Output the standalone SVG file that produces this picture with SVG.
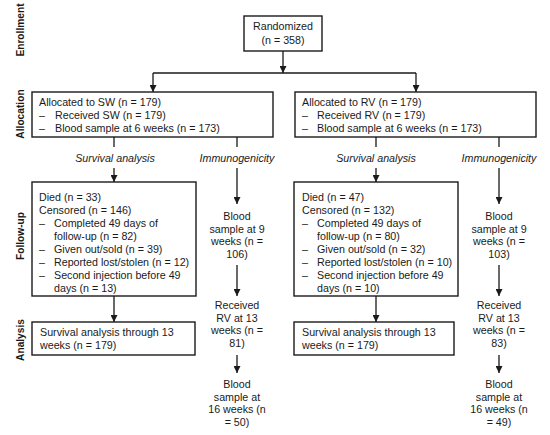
<svg xmlns="http://www.w3.org/2000/svg" width="550" height="435" viewBox="0 0 550 435">
<style>
text{font-family:"Liberation Sans",Arial,sans-serif;font-size:10.7px;fill:#1a1a1a}
.c{text-anchor:middle}
.i{font-style:italic}
.s{font-weight:bold;text-anchor:middle;font-size:10.2px}
.box{fill:#fff;stroke:#1a1a1a;stroke-width:1.4}
.ln{fill:none;stroke:#1a1a1a;stroke-width:1.3}
</style>
<defs>
<marker id="ah" viewBox="0 0 8 8" refX="8" refY="4" markerWidth="7" markerHeight="7" markerUnits="userSpaceOnUse" orient="auto">
<path d="M0,0 L8,4 L0,8 z" fill="#1a1a1a"/>
</marker>
</defs>
<rect width="550" height="435" fill="#fff"/>
<g id="stages">
<text class="s" transform="translate(24,30) rotate(-90)">Enrollment</text>
<text class="s" transform="translate(24,114) rotate(-90)">Allocation</text>
<text class="s" transform="translate(24,236) rotate(-90)">Follow-up</text>
<text class="s" transform="translate(24,340) rotate(-90)">Analysis</text>
</g>
<g id="connectors">
<path class="ln" d="M283,51 V73" marker-end="url(#ah)"/>
<path class="ln" d="M153,73 H416"/>
<path class="ln" d="M153,73 V92" marker-end="url(#ah)"/>
<path class="ln" d="M416,73 V92" marker-end="url(#ah)"/>
<path class="ln" d="M114,137 V147"/>
<path class="ln" d="M237,137 V147"/>
<path class="ln" d="M376,137 V147"/>
<path class="ln" d="M499,137 V147"/>
<path class="ln" d="M114,168 V182" marker-end="url(#ah)"/>
<path class="ln" d="M376,168 V182" marker-end="url(#ah)"/>
<path class="ln" d="M237,168 V204" marker-end="url(#ah)"/>
<path class="ln" d="M499,168 V204" marker-end="url(#ah)"/>
<path class="ln" d="M114,296 V322" marker-end="url(#ah)"/>
<path class="ln" d="M376,296 V322" marker-end="url(#ah)"/>
<path class="ln" d="M237,265 V296" marker-end="url(#ah)"/>
<path class="ln" d="M499,265 V296" marker-end="url(#ah)"/>
<path class="ln" d="M237,355 V373" marker-end="url(#ah)"/>
<path class="ln" d="M499,355 V373" marker-end="url(#ah)"/>
</g>
<g id="randomized">
<rect class="box" x="244" y="16" width="78" height="35"/>
<text class="c" x="283" y="30">Randomized</text>
<text class="c" x="283" y="44">(n = 358)</text>
</g>
<g id="alloc-sw">
<rect class="box" x="32" y="92" width="241" height="45"/>
<text x="39" y="106">Allocated to SW (n = 179)</text>
<text x="39" y="119">–</text><text x="55" y="119">Received SW (n = 179)</text>
<text x="39" y="132">–</text><text x="55" y="132">Blood sample at 6 weeks (n = 173)</text>
</g>
<g id="alloc-rv">
<rect class="box" x="295" y="92" width="241" height="45"/>
<text x="302" y="106">Allocated to RV (n = 179)</text>
<text x="302" y="119">–</text><text x="317" y="119">Received RV (n = 179)</text>
<text x="302" y="132">–</text><text x="317" y="132">Blood sample at 6 weeks (n = 173)</text>
</g>
<g id="labels">
<text class="c i" x="115" y="162">Survival analysis</text>
<text class="c i" x="237" y="162">Immunogenicity</text>
<text class="c i" x="376" y="162">Survival analysis</text>
<text class="c i" x="499" y="162">Immunogenicity</text>
</g>
<g id="followup-sw">
<rect class="box" x="32" y="182" width="164" height="114"/>
<text x="39" y="201">Died (n = 33)</text>
<text x="39" y="214">Censored (n = 146)</text>
<text x="39" y="227">–</text><text x="54" y="227">Completed 49 days of</text>
<text x="54" y="240">follow-up (n = 82)</text>
<text x="39" y="253">–</text><text x="54" y="253">Given out/sold (n = 39)</text>
<text x="39" y="266">–</text><text x="54" y="266">Reported lost/stolen (n = 12)</text>
<text x="39" y="279">–</text><text x="54" y="279">Second injection before 49</text>
<text x="54" y="292">days (n = 13)</text>
</g>
<g id="followup-rv">
<rect class="box" x="294" y="182" width="164" height="114"/>
<text x="302" y="201">Died (n = 47)</text>
<text x="302" y="214">Censored (n = 132)</text>
<text x="302" y="227">–</text><text x="317" y="227">Completed 49 days of</text>
<text x="317" y="240">follow-up (n = 80)</text>
<text x="302" y="253">–</text><text x="317" y="253">Given out/sold (n = 32)</text>
<text x="302" y="266">–</text><text x="317" y="266">Reported lost/stolen (n = 10)</text>
<text x="302" y="279">–</text><text x="317" y="279">Second injection before 49</text>
<text x="317" y="292">days (n = 10)</text>
</g>
<g id="blood9-sw">
<text class="c" x="237" y="220">Blood</text>
<text class="c" x="237" y="232.5">sample at 9</text>
<text class="c" x="237" y="245">weeks (n =</text>
<text class="c" x="237" y="257.5">106)</text>
</g>
<g id="blood9-rv">
<text class="c" x="499" y="220">Blood</text>
<text class="c" x="499" y="232.5">sample at 9</text>
<text class="c" x="499" y="245">weeks (n =</text>
<text class="c" x="499" y="257.5">103)</text>
</g>
<g id="rv13-sw">
<text class="c" x="237" y="309">Received</text>
<text class="c" x="237" y="321.5">RV at 13</text>
<text class="c" x="237" y="334">weeks (n =</text>
<text class="c" x="237" y="346.5">81)</text>
</g>
<g id="rv13-rv">
<text class="c" x="499" y="309">Received</text>
<text class="c" x="499" y="321.5">RV at 13</text>
<text class="c" x="499" y="334">weeks (n =</text>
<text class="c" x="499" y="346.5">83)</text>
</g>
<g id="analysis-sw">
<rect class="box" x="32" y="322" width="163" height="33"/>
<text x="40" y="336">Survival analysis through 13</text>
<text x="40" y="349">weeks (n = 179)</text>
</g>
<g id="analysis-rv">
<rect class="box" x="294" y="322" width="160" height="33"/>
<text x="302" y="336">Survival analysis through 13</text>
<text x="302" y="349">weeks (n = 179)</text>
</g>
<g id="blood16-sw">
<text class="c" x="237" y="388">Blood</text>
<text class="c" x="237" y="400.5">sample at</text>
<text class="c" x="237" y="413">16 weeks (n</text>
<text class="c" x="237" y="425.5">= 50)</text>
</g>
<g id="blood16-rv">
<text class="c" x="499" y="388">Blood</text>
<text class="c" x="499" y="400.5">sample at</text>
<text class="c" x="499" y="413">16 weeks (n</text>
<text class="c" x="499" y="425.5">= 49)</text>
</g>
</svg>
